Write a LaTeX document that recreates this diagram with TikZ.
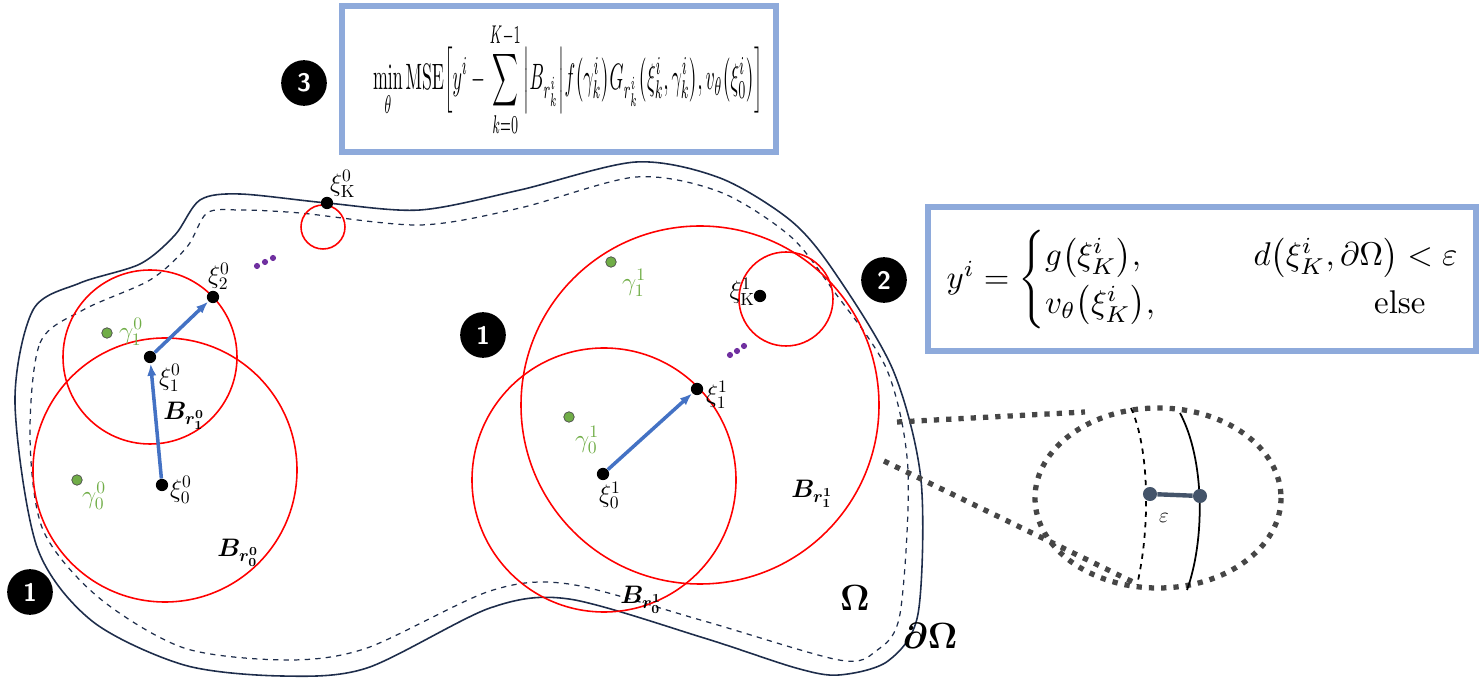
\documentclass[tikz,border=0pt]{standalone}
\usepackage{amsmath,bm}
\usetikzlibrary{arrows.meta}
\definecolor{bnd}{RGB}{30,45,75}
\definecolor{boxb}{RGB}{142,170,219}
\definecolor{gr}{RGB}{112,173,71}
\definecolor{arr}{RGB}{68,114,196}
\definecolor{pur}{RGB}{112,48,160}
\definecolor{dg}{RGB}{70,70,70}
\definecolor{seg}{RGB}{68,84,106}
\tikzset{
 ball/.style={draw=red, line width=0.9pt},
 pt/.style={circle, fill=black, inner sep=0pt, minimum size=7pt},
 gpt/.style={circle, fill=gr, draw=black!70, inner sep=0pt, minimum size=6pt},
 ppt/.style={circle, fill=pur, inner sep=0pt, minimum size=3.5pt},
 num/.style={circle, fill=black, text=white, font=\sffamily\bfseries\Large, minimum size=26pt, inner sep=0pt},
 fbox/.style={draw=boxb, line width=3pt, inner sep=0pt},
 steparrow/.style={-{Latex[length=7pt]}, arr, line width=2pt},
 lab/.style={font=\Large, inner sep=1pt},
 glab/.style={font=\Large, text=gr, inner sep=1pt},
 dotl/.style={dg, line width=3pt, dash pattern=on 3pt off 4pt}
}
\begin{document}
\begin{tikzpicture}[x=0.02cm,y=-0.02cm]
\useasboundingbox (0,0) rectangle (1482,678);
% boundary
\draw[bnd, line width=0.9pt] plot[smooth cycle, tension=0.5] coordinates {(15,403) (33,310) (80,283) (140,264) (175,235) (200,200) (240,194) (327,203) (420,210) (520,190) (636,162) (720,178) (790,220) (833,270) (893,370) (921,480) (918,614) (888,661) (839,675) (796,668) (704,638) (569,599) (490,608) (367,668) (282,676) (184,665) (92,621) (37,547)};
\draw[bnd, line width=0.7pt, dashed] plot[smooth cycle, tension=0.5] coordinates {(30,437) (40,343) (83,310) (150,280) (187,247) (207,213) (240,210) (300,213) (420,225) (520,208) (636,177) (720,192) (790,236) (833,290) (887,370) (908,470) (900,614) (876,651) (839,660) (704,621) (569,584) (490,591) (367,648) (288,660) (184,648) (98,597) (43,530)};
% balls
\draw[ball] (165,470) circle (132);
\draw[ball] (150,357) circle (87);
\draw[ball] (323,227) circle (22);
\draw[ball] (700,405) circle (179);
\draw[ball] (604,480) circle (132);
\draw[ball] (786,299) circle (47);
% points
\node[pt] (a0) at (162,485) {};
\node[pt] (a1) at (150,357) {};
\node[pt] (a2) at (213,297) {};
\node[pt] (aK) at (327,203) {};
\node[pt] (b0) at (603,474) {};
\node[pt] (b1) at (697,389) {};
\node[pt] (bK) at (760,296) {};
\draw[steparrow] (a0) -- (a1);
\draw[steparrow] (a1) -- (a2);
\draw[steparrow] (b0) -- (b1);
\node[gpt] (g10) at (107,333) {};
\node[gpt] (g00) at (77,480) {};
\node[gpt] (g11) at (611,262) {};
\node[gpt] (g01) at (569,417) {};
\node[glab, anchor=west] at (117,332) {$\gamma_1^0$};
\node[glab, anchor=west] at (80,496) {$\gamma_0^0$};
\node[glab, anchor=west] at (620,283) {$\gamma_1^1$};
\node[glab, anchor=west] at (573,440) {$\gamma_0^1$};
\node[lab, anchor=west] at (168,490) {$\xi_0^0$};
\node[lab, anchor=west] at (157,378) {$\xi_1^0$};
\node[lab, anchor=south] at (219,292) {$\xi_2^0$};
\node[lab, anchor=south west] at (328,200) {$\xi_{\mathrm{K}}^0$};
\node[lab, anchor=north] at (610,480) {$\xi_0^1$};
\node[lab, anchor=west] at (704,395) {$\xi_1^1$};
\node[lab, anchor=east] at (757,292) {$\xi_{\mathrm{K}}^1$};
\node[lab] at (238,553) {$\bm{B}_{\bm{r_0^0}}$};
\node[lab] at (184,416) {$\bm{B}_{\bm{r_1^0}}$};
\node[lab] at (641,600) {$\bm{B}_{\bm{r_0^1}}$};
\node[lab] at (812,494) {$\bm{B}_{\bm{r_1^1}}$};
\node[font=\huge] at (855,598) {$\bm{\Omega}$};
\node[font=\huge] at (930,636) {$\bm{\partial\Omega}$};
\foreach \x/\y in {257/266,265/262,273/258,730/355,737/351,744/346} \node[ppt] at (\x,\y) {};
% numbers
\node[num] (n3) at (304,83) {3};
\node[num] (n2) at (884,280) {2};
\node[num] (n1a) at (483,335) {1};
\node[num] (n1b) at (30,592) {1};
% boxes
\draw[fbox] (342,6) rectangle (776,152);
\node[inner sep=0pt] (f3) at (568,80) {\resizebox*{7.8cm}{2.3cm}{$\displaystyle\min_{\theta}\mathrm{MSE}\Big[y^i-\sum_{k=0}^{K-1}\Big|B_{r_k^i}\Big|f\big(\gamma_k^i\big)G_{r_k^i}\big(\xi_k^i,\gamma_k^i\big),v_\theta\big(\xi_0^i\big)\Big]$}};
\draw[fbox] (928,207) rectangle (1476,351);
\node[inner sep=0pt] (f2) at (1204,280) {\resizebox{10.3cm}{!}{$y^i=\begin{cases} g\big(\xi_K^i\big), & \qquad d\big(\xi_K^i,\partial\Omega\big)<\varepsilon\\ v_\theta\big(\xi_K^i\big), & \qquad\qquad\quad\ \ \text{else}\end{cases}$}};
% zoom
\draw[dotl] (1158,498) ellipse (123 and 90);
\draw[dotl] (897,422) -- (1085,412);
\draw[dotl] (884,461) -- (1135,583);
\draw[black, line width=1pt, dashed] (1131,408) .. controls (1150,450) and (1150,530) .. (1137,585);
\draw[black, line width=1pt] (1180,413) .. controls (1205,460) and (1205,540) .. (1187,590);
\node[circle, fill=seg, inner sep=0pt, minimum size=8pt] (e1) at (1150,494) {};
\node[circle, fill=seg, inner sep=0pt, minimum size=8pt] (e2) at (1200,496) {};
\draw[seg, line width=2.5pt] (e1) -- (e2);
\node[font=\large] at (1164,518) {$\varepsilon$};
\end{tikzpicture}
\end{document}
